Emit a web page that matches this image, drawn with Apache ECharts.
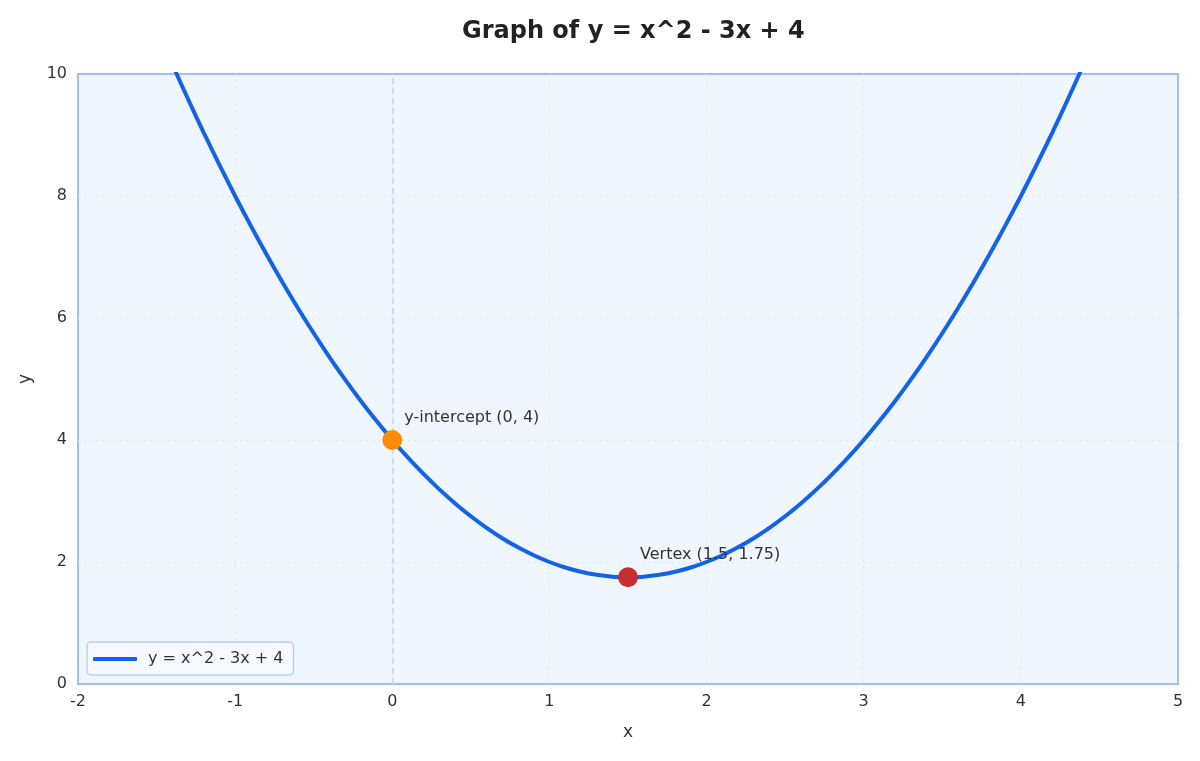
<!DOCTYPE html>
<html>
<head>
<meta charset="utf-8">
<script src="https://cdn.jsdelivr.net/npm/echarts@6/dist/echarts.min.js"></script>
<style>html,body{margin:0;padding:0;background:#fff}#c{width:1200px;height:761px}</style>
</head>
<body>
<div id="c"></div>
<script>
var titleText = 'Graph of y = x^2 - 3x + 4';
var seriesName = 'y = x^2 - 3x + 4';
var curveX = [-1.4,-1.3,-1.2,-1.1,-1.0,-0.9,-0.8,-0.7,-0.6,-0.5,-0.4,-0.3,-0.2,-0.1,0,0.1,0.2,0.3,0.4,0.5,0.6,0.7,0.8,0.9,1.0,1.1,1.2,1.3,1.4,1.5,1.6,1.7,1.8,1.9,2.0,2.1,2.2,2.3,2.4,2.5,2.6,2.7,2.8,2.9,3.0,3.1,3.2,3.3,3.4,3.5,3.6,3.7,3.8,3.9,4.0,4.1,4.2,4.3,4.4];
var curveY = [10.16,9.59,9.04,8.51,8,7.51,7.04,6.59,6.16,5.75,5.36,4.99,4.64,4.31,4,3.71,3.44,3.19,2.96,2.75,2.56,2.39,2.24,2.11,2,1.91,1.84,1.79,1.76,1.75,1.76,1.79,1.84,1.91,2,2.11,2.24,2.39,2.56,2.75,2.96,3.19,3.44,3.71,4,4.31,4.64,4.99,5.36,5.75,6.16,6.59,7.04,7.51,8,8.51,9.04,9.59,10.16];
var pointNames = ['y-intercept (0, 4)', 'Vertex (1.5, 1.75)'];
var pointX = [0, 1.5];
var pointY = [4, 1.75];
var pointColors = ['#ff8c00', '#c62f2f'];

var font = '"DejaVu Sans", sans-serif';
var chart = echarts.init(document.getElementById('c'));
chart.setOption({
  animation: false,
  textStyle: {fontFamily: font},
  title: {text: titleText, left: 457, top: 15, textStyle: {fontSize: 24, fontWeight: 'bold', color: '#222', fontFamily: font}},
  grid: {left: 78, right: 22, top: 74, bottom: 77, show: true, backgroundColor: '#f0f6fe', borderColor: '#9dbff5', borderWidth: 2},
  legend: {data: [seriesName], left: 87, bottom: 86, orient: 'vertical', backgroundColor: '#f6f9ff', borderColor: '#b9d2f7', borderWidth: 1.5, borderRadius: 4, padding: [9, 10, 8, 6], itemWidth: 44, itemHeight: 4, itemGap: 10, icon: 'roundRect', textStyle: {fontSize: 16, color: '#333', fontFamily: font, padding: [0, 0, 0, 6]}},
  xAxis: {type: 'value', min: -2, max: 5, interval: 1, name: 'x', nameLocation: 'middle', nameGap: 40, nameTextStyle: {fontSize: 17, color: '#333'},
    axisLine: {show: false}, axisTick: {show: false}, axisLabel: {fontSize: 16, color: '#333', margin: 10},
    splitLine: {show: true, showMinLine: false, showMaxLine: false, lineStyle: {color: '#dde6f3', type: [2, 4], width: 1}}},
  yAxis: {type: 'value', min: 0, max: 10, interval: 2, name: 'y', nameLocation: 'middle', nameGap: 44, nameTextStyle: {fontSize: 17, color: '#333'},
    axisLine: {show: false}, axisTick: {show: false}, axisLabel: {fontSize: 16, color: '#333', margin: 11},
    splitLine: {show: true, showMinLine: false, showMaxLine: false, lineStyle: {color: '#dde6f3', type: [2, 4], width: 1}}},
  series: [
    {name: seriesName, type: 'line', smooth: 0.3, showSymbol: false, clip: true,
      data: curveX.map(function (x, i) { return [x, curveY[i]]; }),
      lineStyle: {color: '#1363e6', width: 4}, itemStyle: {color: '#1363e6'}, z: 3,
      markLine: {silent: true, symbol: 'none', label: {show: false}, lineStyle: {color: '#c3d6f4', type: [6, 4], width: 1.5}, data: [{xAxis: 0}], z: 1}},
    {name: 'points', type: 'scatter', symbolSize: 20, z: 5,
      data: pointX.map(function (x, i) { return {value: [x, pointY[i]], name: pointNames[i], itemStyle: {color: pointColors[i], opacity: 1}}; }),
      label: {show: true, formatter: '{b}', position: 'right', offset: [-3, -22], fontSize: 16, color: '#333', opacity: 1, fontFamily: font}}
  ]
});
</script>
</body>
</html>
